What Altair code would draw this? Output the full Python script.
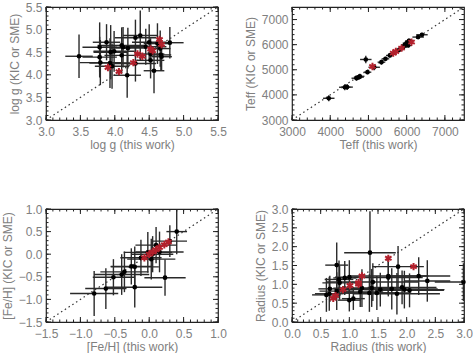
import altair as alt
import pandas as pd

# ---------------- data ----------------
# log g panel
logg_bx = [3.48, 3.78, 3.78, 3.79, 3.88, 3.94, 3.93, 3.96, 3.99, 4.10, 4.12, 4.10, 4.18, 4.19,
           4.30, 4.37, 4.50, 4.52, 4.52, 4.57, 4.62, 4.66, 4.67, 4.68, 4.80, 4.30, 4.45]
logg_by = [4.41, 4.61, 4.39, 4.27, 4.72, 4.50, 4.26, 4.19, 4.52, 4.65, 4.61, 4.43, 3.99, 4.59,
           4.82, 4.87, 4.72, 4.46, 4.32, 4.09, 4.69, 4.58, 4.44, 4.40, 4.71, 4.25, 4.62]
logg_bxe = [0.20, 0.25, 0.25, 0.30, 0.20, 0.25, 0.30, 0.25, 0.30, 0.35, 0.30, 0.25, 0.20, 0.25,
            0.30, 0.25, 0.25, 0.20, 0.20, 0.15, 0.20, 0.15, 0.15, 0.15, 0.20, 0.30, 0.30]
logg_bye = [0.48, 0.55, 0.45, 0.50, 0.40, 0.60, 0.55, 0.50, 0.45, 0.40, 0.45, 0.40, 0.50, 0.45,
            0.40, 0.55, 0.40, 0.35, 0.40, 0.50, 0.45, 0.40, 0.35, 0.30, 0.35, 0.40, 0.40]
logg_rx = [3.90, 4.06, 4.27, 4.33, 4.40, 4.52, 4.55, 4.65, 4.68]
logg_ry = [4.16, 4.07, 4.27, 4.46, 4.41, 4.57, 4.53, 4.78, 4.67]

# Teff panel
teff_bx = [3962, 4381, 4442, 4687, 4748, 4775, 4931, 4975, 5150, 5340, 5445, 5560, 5804, 5909,
           5953, 5997, 6040, 6060, 6300, 6400]
teff_by = [3865, 4304, 4310, 4664, 4704, 4740, 5410, 4904, 5100, 5303, 5436, 5570, 5796, 5902,
           5995, 6062, 5968, 6150, 6302, 6395]
teff_bxe = [150, 150, 150, 130, 130, 120, 150, 100, 150, 100, 100, 100, 100, 100,
            100, 100, 100, 100, 150, 150]
teff_bye = [120, 120, 120, 100, 100, 100, 150, 80, 120, 100, 80, 80, 80, 80,
            80, 100, 80, 100, 80, 80]
teff_rx = [5105, 5648, 5717, 5866, 6128]
teff_ry = [5130, 5662, 5729, 5862, 6102]

# [Fe/H] panel
feh_bx = [0.40, 0.30, 0.10, 0.03, -0.12, -0.02, 0.05, -0.21, -0.26, -0.36, -0.40, -0.52, -0.63,
          -0.80, -0.21, 0.23, 0.15]
feh_by = [0.50, 0.29, 0.20, -0.11, -0.08, 0.04, 0.00, -0.28, -0.27, -0.39, -0.45, -0.51, -0.76,
          -0.87, -0.73, -0.52, 0.05]
feh_bxe = [0.15, 0.25, 0.30, 0.35, 0.30, 0.35, 0.30, 0.35, 0.30, 0.35, 0.40, 0.30, 0.30,
           0.35, 0.40, 0.30, 0.35]
feh_bye = [0.50, 0.35, 0.40, 0.45, 0.40, 0.45, 0.40, 0.45, 0.40, 0.45, 0.45, 0.40, 0.45,
           0.50, 0.45, 0.40, 0.45]
feh_rx = [-0.07, 0.00, 0.05, 0.10, 0.15, 0.22, 0.28]
feh_ry = [-0.08, 0.00, 0.05, 0.10, 0.15, 0.21, 0.27]

# Radius panel
rad_bx = [1.36, 0.78, 1.85, 2.21, 2.36, 2.99, 1.68, 1.68, 1.00, 0.92, 0.82, 0.83, 0.78, 0.65,
          0.60, 0.66, 1.41, 1.54, 1.39, 1.22, 1.74, 1.83, 1.92, 1.96, 2.05, 1.00, 1.07, 1.19,
          1.35, 1.48]
rad_by = [1.84, 1.51, 1.47, 1.22, 1.09, 1.06, 1.22, 1.18, 1.19, 1.17, 1.13, 1.04, 0.82, 0.75,
          0.72, 0.88, 1.06, 0.86, 0.90, 0.90, 0.88, 0.75, 0.92, 0.86, 0.84, 0.58, 0.62, 0.80,
          0.77, 0.77]
rad_bxe = [0.45, 0.20, 0.45, 0.55, 0.40, 0.50, 0.70, 0.60, 0.25, 0.20, 0.25, 0.30, 0.30, 0.25,
           0.25, 0.20, 0.80, 0.80, 0.60, 0.50, 0.80, 0.75, 0.60, 0.70, 0.60, 0.20, 0.20, 0.40,
           0.50, 0.60]
rad_bye = [1.10, 0.60, 0.55, 0.50, 0.55, 0.50, 0.50, 0.50, 0.45, 0.45, 0.50, 0.45, 0.50, 0.45,
           0.45, 0.35, 0.50, 0.45, 0.50, 0.50, 0.55, 0.55, 0.45, 0.50, 0.45, 0.30, 0.30, 0.40,
           0.50, 0.45]
rad_rx = [0.72, 0.76, 0.89, 1.01, 1.16, 1.16, 1.22, 1.68, 2.12]
rad_ry = [0.63, 0.70, 0.86, 0.97, 1.04, 1.00, 1.22, 1.69, 1.47]

# axis ticks
logg_major = [3.0, 3.5, 4.0, 4.5, 5.0, 5.5]
teff_major = [3000, 4000, 5000, 6000, 7000]
feh_major = [-1.5, -1.0, -0.5, 0.0, 0.5, 1.0]
rad_major = [0.0, 0.5, 1.0, 1.5, 2.0, 2.5, 3.0]

W, H = 172, 113
GRAY = "#808080"
BAR = "#2a2a2a"
RED = "#b3202c"
STAR = "M0,-1L0,1M-0.866,-0.5L0.866,0.5M-0.866,0.5L0.866,-0.5"


def minor_list(lo, hi, step):
    n = int(round((hi - lo) / step))
    return [round(lo + i * step, 6) for i in range(n + 1)]


def panel(bx, by, bxe, bye, rx, ry, dom, major, minor_step, fmt, xtitle, ytitle):
    sc = alt.Scale(domain=dom, nice=False, zero=False)
    axx = alt.Axis(values=major, format=fmt, title=xtitle, grid=False, domain=False,
                   ticks=False, labelPadding=6, titlePadding=2, labelFlush=False,
                   titleFontWeight="normal")
    axy = alt.Axis(values=major, format=fmt, title=ytitle, grid=False, domain=False,
                   ticks=False, labelPadding=4, titlePadding=4, labelFlush=False,
                   titleFontWeight="normal")
    black = pd.DataFrame({"x": bx, "y": by, "xe": bxe, "ye": bye})
    black["x1"] = black.x - black.xe
    black["x2"] = black.x + black.xe
    black["y1"] = black.y - black.ye
    black["y2"] = black.y + black.ye
    red = pd.DataFrame({"x": rx, "y": ry})
    diag = pd.DataFrame({"x": [dom[0], dom[1]], "y": [dom[0], dom[1]]})
    mn = pd.DataFrame({"t": minor_list(dom[0], dom[1], minor_step)})
    mj = pd.DataFrame({"t": major})

    X = lambda f: alt.X(f, type="quantitative", scale=sc, axis=axx)
    Y = lambda f: alt.Y(f, type="quantitative", scale=sc, axis=axy)

    hbar = alt.Chart(black).mark_rule(color=BAR, strokeWidth=1.4, clip=True).encode(
        x=X("x1"), x2="x2", y=Y("y"))
    vbar = alt.Chart(black).mark_rule(color=BAR, strokeWidth=1.4, clip=True).encode(
        x=X("x"), y=Y("y1"), y2="y2")
    dline = alt.Chart(diag).mark_line(color="#333333", strokeWidth=1.2,
                                      strokeDash=[1.5, 3]).encode(x=X("x"), y=Y("y"))
    pts = alt.Chart(black).mark_circle(color="black", size=22, opacity=1).encode(
        x=X("x"), y=Y("y"))
    stars = alt.Chart(red).mark_point(shape=STAR, filled=False, color=RED, strokeWidth=2,
                                      size=55, opacity=1).encode(x=X("x"), y=Y("y"))
    layers = [hbar, vbar, dline, pts, stars]
    for df, ln in ((mn, 2.5), (mj, 5)):
        layers += [
            alt.Chart(df).mark_rule(color="#222222", strokeWidth=1).encode(
                x=X("t"), y=alt.value(H), y2=alt.value(H - ln)),
            alt.Chart(df).mark_rule(color="#222222", strokeWidth=1).encode(
                x=X("t"), y=alt.value(0), y2=alt.value(ln)),
            alt.Chart(df).mark_rule(color="#222222", strokeWidth=1).encode(
                y=Y("t"), x=alt.value(0), x2=alt.value(ln)),
            alt.Chart(df).mark_rule(color="#222222", strokeWidth=1).encode(
                y=Y("t"), x=alt.value(W), x2=alt.value(W - ln)),
        ]
    return alt.layer(*layers).properties(width=W, height=H)


p1 = panel(logg_bx, logg_by, logg_bxe, logg_bye, logg_rx, logg_ry, [3.0, 5.5], logg_major,
           0.1, ".1f", "log g (this work)", "log g (KIC or SME)")
p2 = panel(teff_bx, teff_by, teff_bxe, teff_bye, teff_rx, teff_ry, [3000, 7500], teff_major,
           200, "d", "Teff (this work)", "Teff (KIC or SME)")
p3 = panel(feh_bx, feh_by, feh_bxe, feh_bye, feh_rx, feh_ry, [-1.5, 1.0], feh_major,
           0.1, ".1f", "[Fe/H] (this work)", "[Fe/H] (KIC or SME)")
p4 = panel(rad_bx, rad_by, rad_bxe, rad_bye, rad_rx, rad_ry, [0.0, 3.0], rad_major,
           0.1, ".1f", "Radius (this work)", "Radius (KIC or SME)")

chart = alt.concat(
    p1, p2, p3, p4, columns=2,
    spacing={"row": 89, "column": 74}, bounds="flush"
).properties(
    padding={"left": 0, "top": 0, "right": 0, "bottom": 0}
).configure_view(
    stroke="#222222", strokeWidth=1.2
).configure_axis(
    labelColor=GRAY, titleColor=GRAY, labelFont="Liberation Sans", titleFont="Liberation Sans",
    labelFontSize=12, titleFontSize=12, titleFontWeight="normal"
)

chart.save("out.html", embed_options={"renderer": "svg", "actions": False})
